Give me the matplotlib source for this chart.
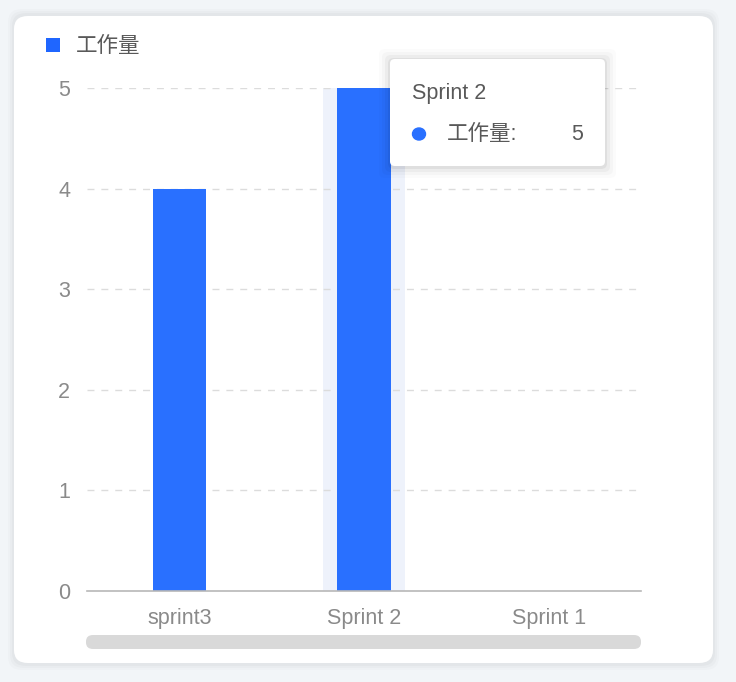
import matplotlib
matplotlib.use("Agg")

import matplotlib.pyplot as plt
from matplotlib.patches import FancyBboxPatch, Rectangle

categories = ["sprint3", "Sprint 2", "Sprint 1"]
workload = [4, 5, 0]
y_ticks = [0, 1, 2, 3, 4, 5]
series_name = "工作量"
hover_idx = 1

W, H = 736, 682
BLUE = "#2970ff"
FS = 15.5
FONT = ["Liberation Sans", "Noto Sans CJK SC", "DejaVu Sans"]
plt.rcParams["font.family"] = FONT


def fx(px):
    return px / W


def fy(py):
    return 1 - py / H


fig = plt.figure(figsize=(W / 100, H / 100), dpi=100)
fig.patch.set_facecolor("#f2f5f8")

# card with soft shadow
for i, a in enumerate([0.025, 0.02, 0.015]):
    d = 2 + i * 2
    fig.patches.append(FancyBboxPatch(
        (fx(14 - d), fy(663 + d + 1)), fx(699 + 2 * d), (649 + 2 * d) / H,
        boxstyle=f"round,pad=0,rounding_size={14 / W}",
        transform=fig.transFigure, facecolor="black", alpha=a,
        edgecolor="none", zorder=0))
fig.patches.append(FancyBboxPatch(
    (fx(14), fy(663)), fx(699), 647 / H,
    boxstyle=f"round,pad=0,rounding_size={14 / W}",
    transform=fig.transFigure, facecolor="white", edgecolor="none", zorder=1))

ax = fig.add_axes([fx(87), fy(591), fx(554), (591 - 88) / H])
ax.set_facecolor("none")
ax.set_zorder(2)

x = list(range(len(categories)))
ax.axvspan(hover_idx - 0.22, hover_idx + 0.22, color="#eef2fb", zorder=0, lw=0)
ax.bar(x, workload, width=0.29, color=BLUE, zorder=2)

ax.set_xlim(-0.5, len(categories) - 0.5)
ax.set_ylim(0, max(y_ticks))
ax.set_yticks(y_ticks)
ax.set_xticks(x)
ax.set_xticklabels(categories)
for t in y_ticks[1:]:
    ax.axhline(t, color="#dcdcdc", lw=1, ls=(0, (5, 5)), zorder=1)

for s in ["top", "right", "left"]:
    ax.spines[s].set_visible(False)
ax.spines["bottom"].set_color("#b8b8b8")
ax.spines["bottom"].set_linewidth(1.2)
ax.tick_params(axis="both", length=0, colors="#8a8a8a", labelsize=FS)
ax.tick_params(axis="y", pad=12)
ax.tick_params(axis="x", pad=12)

# legend
fig.patches.append(Rectangle((fx(46), fy(52)), fx(14), 14 / H,
                             transform=fig.transFigure, facecolor="#1f66ff",
                             edgecolor="none", zorder=3))
fig.text(fx(76), fy(46), series_name, fontsize=FS, color="#595959",
         va="center", ha="left", zorder=3)

# scrollbar
fig.patches.append(FancyBboxPatch(
    (fx(86), fy(649)), fx(555), 14 / H,
    boxstyle=f"round,pad=0,rounding_size={7 / W}",
    transform=fig.transFigure, facecolor="#d9d9d9", edgecolor="none",
    zorder=3))

# tooltip
for i, a in enumerate([0.05, 0.035, 0.025, 0.015]):
    d = 2 + i * 3
    fig.patches.append(FancyBboxPatch(
        (fx(390 - d), fy(166 + d + 1)), fx(215 + 2 * d), (107 + 2 * d) / H,
        boxstyle=f"round,pad=0,rounding_size={6 / W}",
        transform=fig.transFigure, facecolor="black", alpha=a,
        edgecolor="none", zorder=4))
fig.patches.append(FancyBboxPatch(
    (fx(390), fy(166)), fx(215), 107 / H,
    boxstyle=f"round,pad=0,rounding_size={5 / W}",
    transform=fig.transFigure, facecolor="white", edgecolor="none", zorder=5))
fig.text(fx(412), fy(93), categories[hover_idx], fontsize=FS, color="#595959",
         va="center", ha="left", zorder=6)
fig.patches.append(plt.Circle((fx(419), fy(134)), 6.5 / W,
                              transform=fig.transFigure, color=BLUE,
                              zorder=6))
fig.text(fx(447), fy(134), series_name + ":", fontsize=FS, color="#595959",
         va="center", ha="left", zorder=6)
fig.text(fx(583), fy(134), str(workload[hover_idx]), fontsize=FS,
         color="#595959", va="center", ha="right", zorder=6)

fig.savefig("out.png", dpi=100)
